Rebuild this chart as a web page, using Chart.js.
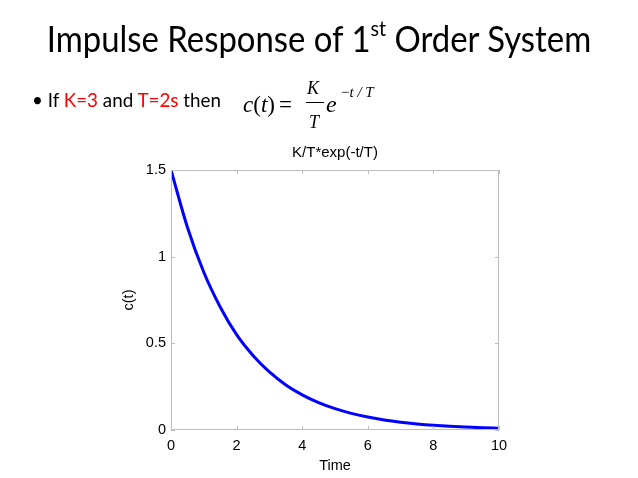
<!DOCTYPE html>
<html>
<head>
<meta charset="utf-8">
<script src="https://cdn.jsdelivr.net/npm/chart.js@4/dist/chart.umd.min.js"></script>
<style>
  html, body { margin: 0; padding: 0; background: #fff; }
  #slide { position: relative; width: 638px; height: 478px; overflow: hidden; }
  #plot { position: absolute; left: 0; top: 0; }
  .txt { position: absolute; white-space: nowrap; color: #000; line-height: 1; }
  .title { font-family: Lato, "Open Sans", sans-serif; font-size: 36px; left: 0; width: 638px; text-align: center; top: 20px; transform: scaleX(0.913); }
  .title sup { font-size: 0.6em; vertical-align: 0; position: relative; top: -0.72em; }
  .bullet { font-family: Lato, "Open Sans", sans-serif; font-size: 20px; left: 32px; top: 89px; transform: scaleX(0.94); transform-origin: left center; }
  .red { color: #ff0000; }
  .math { font-family: "Liberation Serif", "DejaVu Serif", serif; font-style: italic; }
  .up { font-style: normal; }
</style>
</head>
<body>
<div id="slide">
  <canvas id="plot" width="638" height="478"></canvas>
  <div class="txt title">Impulse Response of 1<sup>st</sup> Order System</div>
  <div class="txt bullet">&bull; If <span class="red">K=3</span> and <span class="red">T=2s</span> then</div>
  <div class="txt math" style="font-size:23px; left:243px; top:93px;">c<span class="up">(</span>t<span class="up">)</span></div>
  <div class="txt math up" style="font-size:23px; left:279px; top:93px;">=</div>
  <div class="txt math" style="font-size:18px; left:307px; top:79px;">K</div>
  <div style="position:absolute; left:306px; top:102px; width:18px; height:1px; background:#000;"></div>
  <div class="txt math" style="font-size:18px; left:309px; top:113px;">T</div>
  <div class="txt math" style="font-size:24px; left:326px; top:92px;">e</div>
  <div class="txt math" style="font-size:15px; left:341px; top:85px;"><span class="up">&minus;</span>t / T</div>
</div>
<script>
const times = [0, 0.5, 1, 1.5, 2, 2.5, 3, 3.5, 4, 4.5, 5, 5.5, 6, 6.5, 7, 7.5, 8, 8.5, 9, 9.5, 10];
const response = [1.5, 1.17, 0.91, 0.71, 0.55, 0.43, 0.335, 0.26, 0.203, 0.158, 0.123, 0.096, 0.075, 0.058, 0.045, 0.035, 0.027, 0.021, 0.017, 0.013, 0.01];
const xTicks = [0, 2, 4, 6, 8, 10];
const yTicks = [0, 0.5, 1, 1.5];

const axisFont = { family: '"Liberation Sans", Arial, sans-serif', size: 14.5 };
const frameColor = '#bdbdbd';

// matlab style box with inward ticks on all four sides
const boxPlugin = {
  id: 'matlabBox',
  afterDatasetsDraw(chart) {
    const { ctx, chartArea: a, scales: { x, y } } = chart;
    ctx.save();
    ctx.strokeStyle = frameColor;
    ctx.lineWidth = 1;
    ctx.strokeRect(a.left + 0.5, a.top + 0.5, a.right - a.left - 1, a.bottom - a.top - 1);
    ctx.beginPath();
    xTicks.forEach(v => {
      const px = Math.round(x.getPixelForValue(v)) + 0.5;
      ctx.moveTo(px, a.bottom); ctx.lineTo(px, a.bottom - 4);
      ctx.moveTo(px, a.top); ctx.lineTo(px, a.top + 4);
    });
    yTicks.forEach(v => {
      const py = Math.round(y.getPixelForValue(v)) + 0.5;
      ctx.moveTo(a.left, py); ctx.lineTo(a.left + 4, py);
      ctx.moveTo(a.right, py); ctx.lineTo(a.right - 4, py);
    });
    ctx.stroke();
    ctx.restore();
  }
};

new Chart(document.getElementById('plot'), {
  type: 'line',
  data: {
    datasets: [{
      data: times.map((t, i) => ({ x: t, y: response[i] })),
      borderColor: '#0000ff',
      borderWidth: 3,
      pointRadius: 0,
      cubicInterpolationMode: 'monotone',
      fill: false
    }]
  },
  options: {
    responsive: false,
    animation: false,
    layout: { padding: { left: 110, right: 139, top: 144, bottom: 0 } },
    plugins: {
      legend: { display: false },
      tooltip: { enabled: false },
      title: {
        display: true,
        fullSize: false,
        text: 'K/T*exp(-t/T)',
        color: '#000',
        font: { family: '"Liberation Sans", Arial, sans-serif', size: 15, weight: 'normal' },
        padding: { top: 0, bottom: 8 }
      }
    },
    scales: {
      x: {
        type: 'linear',
        min: 0, max: 10,
        afterBuildTicks: s => { s.ticks = xTicks.map(v => ({ value: v })); },
        afterFit: s => { s.height = 48; },
        grid: { display: false, drawTicks: false },
        border: { display: false },
        ticks: { color: '#000', font: axisFont, padding: 7, maxRotation: 0, callback: v => String(v) },
        title: { display: true, text: 'Time', color: '#000', font: axisFont, padding: { top: 0, bottom: 3 } }
      },
      y: {
        type: 'linear',
        min: 0, max: 1.5,
        afterBuildTicks: s => { s.ticks = yTicks.map(v => ({ value: v })); },
        afterFit: s => { s.width = 61; },
        grid: { display: false, drawTicks: false },
        border: { display: false },
        ticks: { color: '#000', font: axisFont, padding: 5, callback: v => String(v) },
        title: { display: true, text: 'c(t)', color: '#000', font: axisFont, padding: { top: 10, bottom: 0 } }
      }
    }
  },
  plugins: [boxPlugin]
});
</script>
</body>
</html>
